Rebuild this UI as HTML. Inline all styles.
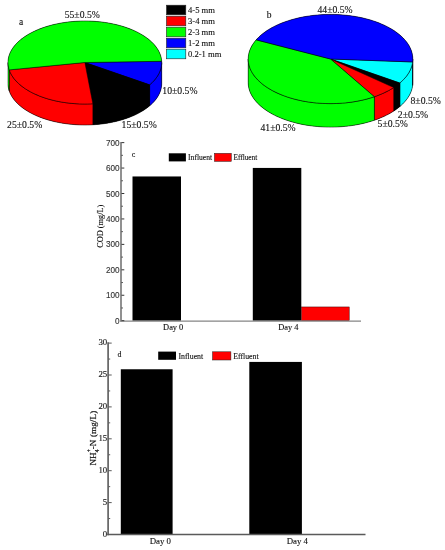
<!DOCTYPE html>
<html><head><meta charset="utf-8"><title>Figure</title>
<style>html,body{margin:0;padding:0;background:#fff;width:445px;height:550px;overflow:hidden}svg{display:block}</style>
</head><body>
<svg width="445" height="550" viewBox="0 0 445 550">
<rect width="445" height="550" fill="#fff"/>
<path d="M8,62.5 L8.05,61.07 L8.18,59.64 L8.41,58.21 L8.73,56.79 L9.14,55.37 L9.64,53.97 L10.23,52.57 L10.91,51.18 L11.68,49.81 L12.53,48.46 L13.48,47.12 L14.5,45.8 L15.61,44.49 L16.8,43.21 L18.08,41.96 L19.43,40.72 L20.86,39.52 L22.37,38.34 L23.95,37.19 L25.6,36.07 L27.33,34.98 L29.12,33.92 L30.98,32.9 L32.9,31.92 L34.89,30.97 L36.93,30.05 L39.04,29.18 L41.19,28.35 L43.4,27.55 L45.66,26.8 L47.97,26.09 L50.32,25.43 L52.71,24.8 L55.13,24.23 L57.6,23.7 L60.1,23.21 L62.62,22.77 L65.17,22.38 L67.75,22.04 L70.35,21.75 L72.96,21.5 L75.59,21.3 L78.23,21.15 L80.87,21.06 L83.52,21.01 L86.18,21.01 L88.83,21.06 L91.47,21.15 L94.11,21.3 L96.74,21.5 L99.35,21.75 L101.95,22.04 L104.53,22.38 L107.08,22.77 L109.6,23.21 L112.1,23.7 L114.57,24.23 L116.99,24.8 L119.38,25.43 L121.73,26.09 L124.04,26.8 L126.3,27.55 L128.51,28.35 L130.66,29.18 L132.77,30.05 L134.81,30.97 L136.8,31.92 L138.72,32.9 L140.58,33.92 L142.37,34.98 L144.1,36.07 L145.75,37.19 L147.33,38.34 L148.84,39.52 L150.27,40.72 L151.62,41.96 L152.9,43.21 L154.09,44.49 L155.2,45.8 L156.22,47.12 L157.17,48.46 L158.02,49.81 L158.79,51.18 L159.47,52.57 L160.06,53.97 L160.56,55.37 L160.97,56.79 L161.29,58.21 L161.52,59.64 L161.65,61.07 L161.7,62.5 L161.7,83.5 L161.65,84.93 L161.52,86.36 L161.29,87.79 L160.97,89.21 L160.56,90.63 L160.06,92.03 L159.47,93.43 L158.79,94.82 L158.02,96.19 L157.17,97.54 L156.22,98.88 L155.2,100.2 L154.09,101.51 L152.9,102.79 L151.62,104.04 L150.27,105.28 L148.84,106.48 L147.33,107.66 L145.75,108.81 L144.1,109.93 L142.37,111.02 L140.58,112.08 L138.72,113.1 L136.8,114.08 L134.81,115.03 L132.77,115.95 L130.66,116.82 L128.51,117.65 L126.3,118.45 L124.04,119.2 L121.73,119.91 L119.38,120.57 L116.99,121.2 L114.57,121.77 L112.1,122.3 L109.6,122.79 L107.08,123.23 L104.53,123.62 L101.95,123.96 L99.35,124.25 L96.74,124.5 L94.11,124.7 L91.47,124.85 L88.83,124.94 L86.18,124.99 L83.52,124.99 L80.87,124.94 L78.23,124.85 L75.59,124.7 L72.96,124.5 L70.35,124.25 L67.75,123.96 L65.17,123.62 L62.62,123.23 L60.1,122.79 L57.6,122.3 L55.13,121.77 L52.71,121.2 L50.32,120.57 L47.97,119.91 L45.66,119.2 L43.4,118.45 L41.19,117.65 L39.04,116.82 L36.93,115.95 L34.89,115.03 L32.9,114.08 L30.98,113.1 L29.12,112.08 L27.33,111.02 L25.6,109.93 L23.95,108.81 L22.37,107.66 L20.86,106.48 L19.43,105.28 L18.08,104.04 L16.8,102.79 L15.61,101.51 L14.5,100.2 L13.48,98.88 L12.53,97.54 L11.68,96.19 L10.91,94.82 L10.23,93.43 L9.64,92.03 L9.14,90.63 L8.73,89.21 L8.41,87.79 L8.18,86.36 L8.05,84.93 L8,83.5Z" fill="#000"/>
<path d="M161.7,62.5 L161.66,63.89 L161.53,65.27 L161.31,66.66 L161.01,68.04 L160.63,69.41 L160.16,70.77 L159.6,72.13 L158.96,73.47 L158.24,74.81 L157.44,76.13 L156.55,77.43 L155.59,78.72 L154.55,79.99 L153.42,81.23 L152.23,82.46 L150.95,83.67 L149.6,84.85 L149.6,105.85 L150.95,104.67 L152.23,103.46 L153.42,102.23 L154.55,100.99 L155.59,99.72 L156.55,98.43 L157.44,97.13 L158.24,95.81 L158.96,94.47 L159.6,93.13 L160.16,91.77 L160.63,90.41 L161.01,89.04 L161.31,87.66 L161.53,86.27 L161.66,84.89 L161.7,83.5Z" fill="#0000ff" stroke="#000" stroke-width="0.5" stroke-linejoin="round"/>
<path d="M149.6,84.85 L148.14,86.04 L146.59,87.21 L144.98,88.35 L143.29,89.45 L141.53,90.52 L139.71,91.56 L137.82,92.57 L135.86,93.54 L133.85,94.47 L131.78,95.36 L129.65,96.22 L127.47,97.03 L125.23,97.81 L122.95,98.54 L120.63,99.23 L118.26,99.87 L115.85,100.47 L113.4,101.03 L110.92,101.54 L108.41,102 L105.87,102.42 L103.31,102.79 L100.72,103.11 L98.12,103.38 L95.5,103.6 L92.86,103.77 L92.86,124.77 L95.5,124.6 L98.12,124.38 L100.72,124.11 L103.31,123.79 L105.87,123.42 L108.41,123 L110.92,122.54 L113.4,122.03 L115.85,121.47 L118.26,120.87 L120.63,120.23 L122.95,119.54 L125.23,118.81 L127.47,118.03 L129.65,117.22 L131.78,116.36 L133.85,115.47 L135.86,114.54 L137.82,113.57 L139.71,112.56 L141.53,111.52 L143.29,110.45 L144.98,109.35 L146.59,108.21 L148.14,107.04 L149.6,105.85Z" fill="#000000" stroke="#000" stroke-width="0.5" stroke-linejoin="round"/>
<path d="M92.86,103.77 L90.2,103.9 L87.53,103.97 L84.86,104 L82.18,103.98 L79.51,103.9 L76.85,103.77 L74.2,103.6 L71.56,103.37 L68.93,103.1 L66.33,102.78 L63.74,102.4 L61.19,101.98 L58.66,101.52 L56.16,101 L53.7,100.44 L51.27,99.83 L48.89,99.18 L46.55,98.48 L44.25,97.74 L42.01,96.95 L39.81,96.13 L37.68,95.26 L35.59,94.36 L33.57,93.41 L31.61,92.43 L29.72,91.41 L27.89,90.36 L26.13,89.27 L24.44,88.15 L22.82,87 L21.28,85.82 L19.82,84.61 L18.43,83.38 L17.13,82.12 L15.91,80.83 L14.77,79.53 L13.71,78.2 L12.74,76.86 L11.86,75.49 L11.07,74.11 L10.37,72.72 L9.75,71.32 L9.23,69.9 L9.23,90.9 L9.75,92.32 L10.37,93.72 L11.07,95.11 L11.86,96.49 L12.74,97.86 L13.71,99.2 L14.77,100.53 L15.91,101.83 L17.13,103.12 L18.43,104.38 L19.82,105.61 L21.28,106.82 L22.82,108 L24.44,109.15 L26.13,110.27 L27.89,111.36 L29.72,112.41 L31.61,113.43 L33.57,114.41 L35.59,115.36 L37.68,116.26 L39.81,117.13 L42.01,117.95 L44.25,118.74 L46.55,119.48 L48.89,120.18 L51.27,120.83 L53.7,121.44 L56.16,122 L58.66,122.52 L61.19,122.98 L63.74,123.4 L66.33,123.78 L68.93,124.1 L71.56,124.37 L74.2,124.6 L76.85,124.77 L79.51,124.9 L82.18,124.98 L84.86,125 L87.53,124.97 L90.2,124.9 L92.86,124.77Z" fill="#ff0000" stroke="#000" stroke-width="0.5" stroke-linejoin="round"/>
<path d="M9.23,69.9 L8.86,68.68 L8.55,67.45 L8.31,66.21 L8.14,64.98 L8.03,63.74 L8,62.5 L8,83.5 L8.03,84.74 L8.14,85.98 L8.31,87.21 L8.55,88.45 L8.86,89.68 L9.23,90.9Z" fill="#00ff00" stroke="#000" stroke-width="0.5" stroke-linejoin="round"/>
<path d="M84.85,62.5 L161.67,61.27 L161.7,62.65 L161.65,64.03 L161.51,65.41 L161.29,66.78 L160.98,68.15 L160.59,69.51 L160.12,70.87 L159.56,72.21 L158.93,73.55 L158.2,74.87 L157.4,76.18 L156.52,77.48 L155.56,78.76 L154.52,80.02 L153.4,81.26 L152.21,82.48 L150.94,83.68 L149.6,84.85Z" fill="#0000ff" stroke="#000" stroke-width="0.5" stroke-linejoin="round"/>
<path d="M84.85,62.5 L149.6,84.85 L148.14,86.04 L146.59,87.21 L144.98,88.35 L143.29,89.45 L141.53,90.52 L139.71,91.56 L137.82,92.57 L135.86,93.54 L133.85,94.47 L131.78,95.36 L129.65,96.22 L127.47,97.03 L125.23,97.81 L122.95,98.54 L120.63,99.23 L118.26,99.87 L115.85,100.47 L113.4,101.03 L110.92,101.54 L108.41,102 L105.87,102.42 L103.31,102.79 L100.72,103.11 L98.12,103.38 L95.5,103.6 L92.86,103.77Z" fill="#000000" stroke="#000" stroke-width="0.5" stroke-linejoin="round"/>
<path d="M84.85,62.5 L92.86,103.77 L90.2,103.9 L87.53,103.97 L84.86,104 L82.18,103.98 L79.51,103.9 L76.85,103.77 L74.2,103.6 L71.56,103.37 L68.93,103.1 L66.33,102.78 L63.74,102.4 L61.19,101.98 L58.66,101.52 L56.16,101 L53.7,100.44 L51.27,99.83 L48.89,99.18 L46.55,98.48 L44.25,97.74 L42.01,96.95 L39.81,96.13 L37.68,95.26 L35.59,94.36 L33.57,93.41 L31.61,92.43 L29.72,91.41 L27.89,90.36 L26.13,89.27 L24.44,88.15 L22.82,87 L21.28,85.82 L19.82,84.61 L18.43,83.38 L17.13,82.12 L15.91,80.83 L14.77,79.53 L13.71,78.2 L12.74,76.86 L11.86,75.49 L11.07,74.11 L10.37,72.72 L9.75,71.32 L9.23,69.9Z" fill="#ff0000" stroke="#000" stroke-width="0.5" stroke-linejoin="round"/>
<path d="M84.85,62.5 L9.23,69.9 L8.8,68.48 L8.46,67.06 L8.22,65.62 L8.06,64.19 L8,62.75 L8.03,61.31 L8.15,59.88 L8.37,58.44 L8.67,57.02 L9.07,55.59 L9.56,54.18 L10.14,52.78 L10.81,51.39 L11.56,50.01 L12.41,48.64 L13.34,47.3 L14.36,45.97 L15.46,44.66 L16.65,43.37 L17.92,42.11 L19.26,40.87 L20.69,39.66 L22.19,38.47 L23.77,37.31 L25.43,36.19 L27.15,35.09 L28.94,34.03 L30.8,33 L32.73,32 L34.71,31.05 L36.76,30.13 L38.87,29.25 L41.03,28.41 L43.24,27.61 L45.5,26.85 L47.81,26.14 L50.17,25.47 L52.56,24.84 L55,24.26 L57.47,23.72 L59.97,23.23 L62.51,22.79 L65.07,22.4 L67.65,22.05 L70.25,21.76 L72.88,21.51 L75.51,21.31 L78.16,21.16 L80.82,21.06 L83.48,21.01 L86.14,21.01 L88.8,21.05 L91.46,21.15 L94.1,21.3 L96.74,21.5 L99.36,21.75 L101.97,22.04 L104.55,22.39 L107.12,22.78 L109.65,23.22 L112.15,23.71 L114.63,24.24 L117.06,24.82 L119.46,25.45 L121.82,26.12 L124.13,26.83 L126.39,27.59 L128.61,28.38 L130.77,29.22 L132.87,30.1 L134.92,31.02 L136.91,31.97 L138.84,32.97 L140.7,33.99 L142.5,35.06 L144.22,36.15 L145.88,37.28 L147.46,38.43 L148.96,39.62 L150.39,40.83 L151.74,42.07 L153.01,43.33 L154.2,44.62 L155.31,45.93 L156.33,47.26 L157.26,48.6 L158.11,49.97 L158.87,51.34 L159.54,52.73 L160.12,54.14 L160.61,55.55 L161.02,56.97 L161.32,58.4 L161.54,59.83 L161.67,61.27Z" fill="#00ff00" stroke="#000" stroke-width="0.5" stroke-linejoin="round"/>
<path d="M248.2,59 L248.25,57.46 L248.4,55.92 L248.64,54.39 L248.98,52.86 L249.42,51.34 L249.96,49.83 L250.59,48.33 L251.32,46.84 L252.14,45.36 L253.06,43.91 L254.06,42.47 L255.16,41.05 L256.35,39.65 L257.63,38.27 L258.99,36.92 L260.44,35.6 L261.97,34.3 L263.59,33.03 L265.28,31.8 L267.05,30.59 L268.9,29.42 L270.82,28.29 L272.81,27.19 L274.87,26.13 L277,25.11 L279.19,24.13 L281.44,23.19 L283.75,22.29 L286.11,21.44 L288.53,20.63 L291,19.87 L293.52,19.16 L296.08,18.49 L298.68,17.87 L301.32,17.3 L303.99,16.78 L306.69,16.31 L309.43,15.89 L312.19,15.52 L314.97,15.2 L317.77,14.94 L320.58,14.73 L323.41,14.57 L326.24,14.46 L329.08,14.41 L331.92,14.41 L334.76,14.46 L337.59,14.57 L340.42,14.73 L343.23,14.94 L346.03,15.2 L348.81,15.52 L351.57,15.89 L354.31,16.31 L357.01,16.78 L359.68,17.3 L362.32,17.87 L364.92,18.49 L367.48,19.16 L370,19.87 L372.47,20.63 L374.89,21.44 L377.25,22.29 L379.56,23.19 L381.81,24.13 L384,25.11 L386.13,26.13 L388.19,27.19 L390.18,28.29 L392.1,29.42 L393.95,30.59 L395.72,31.8 L397.41,33.03 L399.03,34.3 L400.56,35.6 L402.01,36.92 L403.37,38.27 L404.65,39.65 L405.84,41.05 L406.94,42.47 L407.94,43.91 L408.86,45.36 L409.68,46.84 L410.41,48.33 L411.04,49.83 L411.58,51.34 L412.02,52.86 L412.36,54.39 L412.6,55.92 L412.75,57.46 L412.8,59 L412.8,82.5 L412.75,84.04 L412.6,85.58 L412.36,87.11 L412.02,88.64 L411.58,90.16 L411.04,91.67 L410.41,93.17 L409.68,94.66 L408.86,96.14 L407.94,97.59 L406.94,99.03 L405.84,100.45 L404.65,101.85 L403.37,103.23 L402.01,104.58 L400.56,105.9 L399.03,107.2 L397.41,108.47 L395.72,109.7 L393.95,110.91 L392.1,112.08 L390.18,113.21 L388.19,114.31 L386.13,115.37 L384,116.39 L381.81,117.37 L379.56,118.31 L377.25,119.21 L374.89,120.06 L372.47,120.87 L370,121.63 L367.48,122.34 L364.92,123.01 L362.32,123.63 L359.68,124.2 L357.01,124.72 L354.31,125.19 L351.57,125.61 L348.81,125.98 L346.03,126.3 L343.23,126.56 L340.42,126.77 L337.59,126.93 L334.76,127.04 L331.92,127.09 L329.08,127.09 L326.24,127.04 L323.41,126.93 L320.58,126.77 L317.77,126.56 L314.97,126.3 L312.19,125.98 L309.43,125.61 L306.69,125.19 L303.99,124.72 L301.32,124.2 L298.68,123.63 L296.08,123.01 L293.52,122.34 L291,121.63 L288.53,120.87 L286.11,120.06 L283.75,119.21 L281.44,118.31 L279.19,117.37 L277,116.39 L274.87,115.37 L272.81,114.31 L270.82,113.21 L268.9,112.08 L267.05,110.91 L265.28,109.7 L263.59,108.47 L261.97,107.2 L260.44,105.9 L258.99,104.58 L257.63,103.23 L256.35,101.85 L255.16,100.45 L254.06,99.03 L253.06,97.59 L252.14,96.14 L251.32,94.66 L250.59,93.17 L249.96,91.67 L249.42,90.16 L248.98,88.64 L248.64,87.11 L248.4,85.58 L248.25,84.04 L248.2,82.5Z" fill="#000"/>
<path d="M412.62,61.96 L412.39,63.45 L412.07,64.93 L411.66,66.41 L411.15,67.88 L410.56,69.34 L409.88,70.78 L409.1,72.22 L408.24,73.64 L407.29,75.04 L406.26,76.43 L405.14,77.79 L403.93,79.14 L402.65,80.46 L401.28,81.76 L399.83,83.03 L399.83,106.53 L401.28,105.26 L402.65,103.96 L403.93,102.64 L405.14,101.29 L406.26,99.93 L407.29,98.54 L408.24,97.14 L409.1,95.72 L409.88,94.28 L410.56,92.84 L411.15,91.38 L411.66,89.91 L412.07,88.43 L412.39,86.95 L412.62,85.46Z" fill="#00ffff" stroke="#000" stroke-width="0.5" stroke-linejoin="round"/>
<path d="M399.83,83.03 L398.41,84.2 L396.91,85.34 L395.35,86.46 L393.73,87.55 L393.73,111.05 L395.35,109.96 L396.91,108.84 L398.41,107.7 L399.83,106.53Z" fill="#000000" stroke="#000" stroke-width="0.5" stroke-linejoin="round"/>
<path d="M393.73,87.55 L392.04,88.61 L390.3,89.64 L388.49,90.65 L386.63,91.62 L384.71,92.56 L382.74,93.46 L380.71,94.34 L378.64,95.17 L376.52,95.98 L374.36,96.74 L374.36,120.24 L376.52,119.48 L378.64,118.67 L380.71,117.84 L382.74,116.96 L384.71,116.06 L386.63,115.12 L388.49,114.15 L390.3,113.14 L392.04,112.11 L393.73,111.05Z" fill="#ff0000" stroke="#000" stroke-width="0.5" stroke-linejoin="round"/>
<path d="M374.36,96.74 L371.93,97.54 L369.46,98.28 L366.95,98.99 L364.39,99.64 L361.79,100.25 L359.15,100.81 L356.48,101.32 L353.78,101.78 L351.05,102.19 L348.3,102.54 L345.53,102.85 L342.73,103.1 L339.93,103.31 L337.11,103.46 L334.28,103.55 L331.45,103.6 L328.62,103.59 L325.79,103.53 L322.97,103.41 L320.16,103.25 L317.36,103.03 L314.57,102.76 L311.8,102.43 L309.06,102.06 L306.34,101.63 L303.64,101.16 L300.98,100.63 L298.36,100.06 L295.77,99.44 L293.23,98.76 L290.73,98.05 L288.27,97.28 L285.87,96.47 L283.52,95.62 L281.22,94.72 L278.98,93.78 L276.8,92.8 L274.69,91.78 L272.64,90.72 L270.66,89.62 L268.76,88.49 L266.92,87.32 L265.16,86.12 L263.48,84.89 L261.88,83.62 L260.35,82.33 L258.92,81.01 L257.56,79.66 L256.29,78.29 L255.11,76.89 L254.02,75.48 L253.02,74.04 L252.11,72.59 L251.3,71.12 L250.57,69.64 L249.95,68.14 L249.41,66.63 L248.98,65.12 L248.64,63.59 L248.39,62.07 L248.25,60.53 L248.2,59 L248.2,82.5 L248.25,84.03 L248.39,85.57 L248.64,87.09 L248.98,88.62 L249.41,90.13 L249.95,91.64 L250.57,93.14 L251.3,94.62 L252.11,96.09 L253.02,97.54 L254.02,98.98 L255.11,100.39 L256.29,101.79 L257.56,103.16 L258.92,104.51 L260.35,105.83 L261.88,107.12 L263.48,108.39 L265.16,109.62 L266.92,110.82 L268.76,111.99 L270.66,113.12 L272.64,114.22 L274.69,115.28 L276.8,116.3 L278.98,117.28 L281.22,118.22 L283.52,119.12 L285.87,119.97 L288.27,120.78 L290.73,121.55 L293.23,122.26 L295.77,122.94 L298.36,123.56 L300.98,124.13 L303.64,124.66 L306.34,125.13 L309.06,125.56 L311.8,125.93 L314.57,126.26 L317.36,126.53 L320.16,126.75 L322.97,126.91 L325.79,127.03 L328.62,127.09 L331.45,127.1 L334.28,127.05 L337.11,126.96 L339.93,126.81 L342.73,126.6 L345.53,126.35 L348.3,126.04 L351.05,125.69 L353.78,125.28 L356.48,124.82 L359.15,124.31 L361.79,123.75 L364.39,123.14 L366.95,122.49 L369.46,121.78 L371.93,121.04 L374.36,120.24Z" fill="#00ff00" stroke="#000" stroke-width="0.5" stroke-linejoin="round"/>
<path d="M412.8,59 L412.75,60.48 L412.62,61.96 L412.62,85.46 L412.75,83.98 L412.8,82.5Z" fill="#0000ff" stroke="#000" stroke-width="0.5" stroke-linejoin="round"/>
<path d="M330.5,59 L412.62,61.96 L412.39,63.45 L412.07,64.93 L411.66,66.41 L411.15,67.88 L410.56,69.34 L409.88,70.78 L409.1,72.22 L408.24,73.64 L407.29,75.04 L406.26,76.43 L405.14,77.79 L403.93,79.14 L402.65,80.46 L401.28,81.76 L399.83,83.03Z" fill="#00ffff" stroke="#000" stroke-width="0.5" stroke-linejoin="round"/>
<path d="M330.5,59 L399.83,83.03 L398.41,84.2 L396.91,85.34 L395.35,86.46 L393.73,87.55Z" fill="#000000" stroke="#000" stroke-width="0.5" stroke-linejoin="round"/>
<path d="M330.5,59 L393.73,87.55 L392.04,88.61 L390.3,89.64 L388.49,90.65 L386.63,91.62 L384.71,92.56 L382.74,93.46 L380.71,94.34 L378.64,95.17 L376.52,95.98 L374.36,96.74Z" fill="#ff0000" stroke="#000" stroke-width="0.5" stroke-linejoin="round"/>
<path d="M330.5,59 L374.36,96.74 L371.91,97.54 L369.4,98.3 L366.86,99.01 L364.26,99.67 L361.63,100.29 L358.96,100.85 L356.26,101.36 L353.52,101.82 L350.76,102.23 L347.97,102.58 L345.16,102.89 L342.33,103.14 L339.49,103.33 L336.64,103.48 L333.78,103.56 L330.91,103.6 L328.05,103.58 L325.19,103.51 L322.33,103.38 L319.48,103.2 L316.65,102.96 L313.84,102.68 L311.04,102.34 L308.27,101.94 L305.53,101.5 L302.81,101 L300.13,100.45 L297.49,99.85 L294.88,99.21 L292.32,98.51 L289.81,97.77 L287.34,96.98 L284.93,96.14 L282.57,95.26 L280.27,94.33 L278.03,93.36 L275.86,92.35 L273.75,91.3 L271.71,90.21 L269.74,89.08 L267.85,87.92 L266.03,86.72 L264.28,85.49 L262.62,84.22 L261.05,82.93 L259.55,81.6 L258.14,80.25 L256.82,78.87 L255.59,77.47 L254.45,76.05 L253.4,74.6 L252.44,73.14 L251.58,71.66 L250.82,70.16 L250.15,68.65 L249.58,67.13 L249.11,65.6 L248.73,64.06 L248.46,62.51 L248.28,60.96 L248.2,59.41 L248.23,57.86 L248.35,56.31 L248.57,54.76 L248.89,53.22 L249.32,51.68 L249.83,50.16 L250.45,48.64 L251.17,47.14 L251.98,45.65 L252.88,44.17 L253.88,42.72 L254.97,41.28 L256.16,39.87Z" fill="#00ff00" stroke="#000" stroke-width="0.5" stroke-linejoin="round"/>
<path d="M330.5,59 L256.16,39.87 L257.42,38.49 L258.77,37.13 L260.21,35.8 L261.73,34.5 L263.33,33.23 L265.02,31.99 L266.78,30.78 L268.61,29.6 L270.53,28.46 L272.51,27.35 L274.56,26.29 L276.68,25.26 L278.86,24.27 L281.11,23.32 L283.41,22.42 L285.77,21.56 L288.19,20.75 L290.65,19.98 L293.16,19.25 L295.72,18.58 L298.32,17.95 L300.95,17.37 L303.62,16.85 L306.33,16.37 L309.06,15.94 L311.82,15.56 L314.6,15.24 L317.4,14.97 L320.21,14.75 L323.04,14.58 L325.88,14.47 L328.72,14.41 L331.56,14.4 L334.41,14.45 L337.24,14.55 L340.07,14.7 L342.89,14.91 L345.7,15.17 L348.48,15.48 L351.25,15.84 L353.98,16.25 L356.7,16.72 L359.38,17.24 L362.02,17.8 L364.63,18.42 L367.2,19.08 L369.72,19.79 L372.2,20.55 L374.62,21.35 L377,22.2 L379.32,23.09 L381.58,24.03 L383.77,25.01 L385.91,26.02 L387.98,27.08 L389.98,28.18 L391.91,29.31 L393.77,30.48 L395.55,31.68 L397.25,32.91 L398.87,34.18 L400.42,35.47 L401.87,36.79 L403.25,38.14 L404.53,39.52 L405.73,40.92 L406.84,42.34 L407.86,43.78 L408.78,45.23 L409.61,46.71 L410.35,48.2 L410.99,49.7 L411.53,51.21 L411.98,52.73 L412.33,54.26 L412.59,55.8 L412.74,57.33 L412.8,58.88 L412.76,60.42 L412.62,61.96Z" fill="#0000ff" stroke="#000" stroke-width="0.5" stroke-linejoin="round"/>
<text x="19" y="24.5" style="font-family:'Liberation Serif','Times New Roman',serif;font-size:9.5px" text-anchor="start" fill="#111" stroke="#111" stroke-width="0.12">a</text>
<text x="82.25" y="17.6" style="font-family:'Liberation Serif','Times New Roman',serif;font-size:9.7px" text-anchor="middle" fill="#111" stroke="#111" stroke-width="0.12">55&#177;0.5%</text>
<text x="24.65" y="127.8" style="font-family:'Liberation Serif','Times New Roman',serif;font-size:9.7px" text-anchor="middle" fill="#111" stroke="#111" stroke-width="0.12">25&#177;0.5%</text>
<text x="139.2" y="128" style="font-family:'Liberation Serif','Times New Roman',serif;font-size:9.7px" text-anchor="middle" fill="#111" stroke="#111" stroke-width="0.12">15&#177;0.5%</text>
<text x="179.9" y="94.1" style="font-family:'Liberation Serif','Times New Roman',serif;font-size:9.7px" text-anchor="middle" fill="#111" stroke="#111" stroke-width="0.12">10&#177;0.5%</text>
<text x="266.7" y="17.5" style="font-family:'Liberation Serif','Times New Roman',serif;font-size:9.5px" text-anchor="start" fill="#111" stroke="#111" stroke-width="0.12">b</text>
<text x="335.05" y="12.8" style="font-family:'Liberation Serif','Times New Roman',serif;font-size:9.7px" text-anchor="middle" fill="#111" stroke="#111" stroke-width="0.12">44&#177;0.5%</text>
<text x="278.1" y="131" style="font-family:'Liberation Serif','Times New Roman',serif;font-size:9.7px" text-anchor="middle" fill="#111" stroke="#111" stroke-width="0.12">41&#177;0.5%</text>
<text x="425.65" y="103.6" style="font-family:'Liberation Serif','Times New Roman',serif;font-size:9.7px" text-anchor="middle" fill="#111" stroke="#111" stroke-width="0.12">8&#177;0.5%</text>
<text x="413" y="117.9" style="font-family:'Liberation Serif','Times New Roman',serif;font-size:9.7px" text-anchor="middle" fill="#111" stroke="#111" stroke-width="0.12">2&#177;0.5%</text>
<text x="392.75" y="127.2" style="font-family:'Liberation Serif','Times New Roman',serif;font-size:9.7px" text-anchor="middle" fill="#111" stroke="#111" stroke-width="0.12">5&#177;0.5%</text>
<rect x="166.5" y="5.2" width="19.3" height="9.6" fill="#000000" stroke="#222" stroke-width="0.6"/>
<text x="188" y="13" style="font-family:'Liberation Serif','Times New Roman',serif;font-size:8.6px" text-anchor="start" fill="#111" stroke="#111" stroke-width="0.12">4-5 mm</text>
<rect x="166.5" y="16.2" width="19.3" height="9.6" fill="#ff0000" stroke="#222" stroke-width="0.6"/>
<text x="188" y="24" style="font-family:'Liberation Serif','Times New Roman',serif;font-size:8.6px" text-anchor="start" fill="#111" stroke="#111" stroke-width="0.12">3-4 mm</text>
<rect x="166.5" y="27.2" width="19.3" height="9.6" fill="#00ff00" stroke="#222" stroke-width="0.6"/>
<text x="188" y="35" style="font-family:'Liberation Serif','Times New Roman',serif;font-size:8.6px" text-anchor="start" fill="#111" stroke="#111" stroke-width="0.12">2-3 mm</text>
<rect x="166.5" y="38.2" width="19.3" height="9.6" fill="#0000ff" stroke="#222" stroke-width="0.6"/>
<text x="188" y="46" style="font-family:'Liberation Serif','Times New Roman',serif;font-size:8.6px" text-anchor="start" fill="#111" stroke="#111" stroke-width="0.12">1-2 mm</text>
<rect x="166.5" y="49.2" width="19.3" height="9.6" fill="#00ffff" stroke="#222" stroke-width="0.6"/>
<text x="188" y="57" style="font-family:'Liberation Serif','Times New Roman',serif;font-size:8.6px" text-anchor="start" fill="#111" stroke="#111" stroke-width="0.12">0.2-1 mm</text>
<rect x="132.5" y="176.46" width="48.5" height="144.24" fill="#000"/>
<rect x="252.8" y="167.93" width="48.5" height="152.77" fill="#000"/>
<rect x="301.5" y="306.96" width="47.7" height="13.74" fill="#ff0000" stroke="#400" stroke-width="0.5"/>
<line x1="121" y1="141.92" x2="121" y2="321.6" stroke="#858585" stroke-width="1.8"/>
<line x1="120.1" y1="321.1" x2="361" y2="321.1" stroke="#858585" stroke-width="1.4"/>
<line x1="121.5" y1="320.7" x2="124.3" y2="320.7" stroke="#333" stroke-width="1"/>
<text x="119.6" y="323.7" style="font-family:'Liberation Sans',Arial,sans-serif;font-size:8.2px" text-anchor="end" fill="#333" stroke="#333" stroke-width="0.12">0</text>
<line x1="121.5" y1="295.26" x2="124.3" y2="295.26" stroke="#333" stroke-width="1"/>
<text x="119.6" y="298.26" style="font-family:'Liberation Sans',Arial,sans-serif;font-size:8.2px" text-anchor="end" fill="#333" stroke="#333" stroke-width="0.12">100</text>
<line x1="121.5" y1="269.82" x2="124.3" y2="269.82" stroke="#333" stroke-width="1"/>
<text x="119.6" y="272.82" style="font-family:'Liberation Sans',Arial,sans-serif;font-size:8.2px" text-anchor="end" fill="#333" stroke="#333" stroke-width="0.12">200</text>
<line x1="121.5" y1="244.38" x2="124.3" y2="244.38" stroke="#333" stroke-width="1"/>
<text x="119.6" y="247.38" style="font-family:'Liberation Sans',Arial,sans-serif;font-size:8.2px" text-anchor="end" fill="#333" stroke="#333" stroke-width="0.12">300</text>
<line x1="121.5" y1="218.94" x2="124.3" y2="218.94" stroke="#333" stroke-width="1"/>
<text x="119.6" y="221.94" style="font-family:'Liberation Sans',Arial,sans-serif;font-size:8.2px" text-anchor="end" fill="#333" stroke="#333" stroke-width="0.12">400</text>
<line x1="121.5" y1="193.5" x2="124.3" y2="193.5" stroke="#333" stroke-width="1"/>
<text x="119.6" y="196.5" style="font-family:'Liberation Sans',Arial,sans-serif;font-size:8.2px" text-anchor="end" fill="#333" stroke="#333" stroke-width="0.12">500</text>
<line x1="121.5" y1="168.06" x2="124.3" y2="168.06" stroke="#333" stroke-width="1"/>
<text x="119.6" y="171.06" style="font-family:'Liberation Sans',Arial,sans-serif;font-size:8.2px" text-anchor="end" fill="#333" stroke="#333" stroke-width="0.12">600</text>
<line x1="121.5" y1="142.62" x2="124.3" y2="142.62" stroke="#333" stroke-width="1"/>
<text x="119.6" y="145.62" style="font-family:'Liberation Sans',Arial,sans-serif;font-size:8.2px" text-anchor="end" fill="#333" stroke="#333" stroke-width="0.12">700</text>
<line x1="121.5" y1="307.98" x2="122.8" y2="307.98" stroke="#333" stroke-width="1"/>
<line x1="121.5" y1="282.54" x2="122.8" y2="282.54" stroke="#333" stroke-width="1"/>
<line x1="121.5" y1="257.1" x2="122.8" y2="257.1" stroke="#333" stroke-width="1"/>
<line x1="121.5" y1="231.66" x2="122.8" y2="231.66" stroke="#333" stroke-width="1"/>
<line x1="121.5" y1="206.22" x2="122.8" y2="206.22" stroke="#333" stroke-width="1"/>
<line x1="121.5" y1="180.78" x2="122.8" y2="180.78" stroke="#333" stroke-width="1"/>
<line x1="121.5" y1="155.34" x2="122.8" y2="155.34" stroke="#333" stroke-width="1"/>
<text x="131.8" y="157.2" style="font-family:'Liberation Serif','Times New Roman',serif;font-size:8px" text-anchor="start" fill="#111" stroke="#111" stroke-width="0.12">c</text>
<rect x="168.8" y="153.3" width="17.1" height="8.1" fill="#000"/>
<text x="188.1" y="160" style="font-family:'Liberation Serif','Times New Roman',serif;font-size:7.6px" text-anchor="start" fill="#111" stroke="#111" stroke-width="0.12">Influent</text>
<rect x="214.4" y="153.3" width="16.9" height="8.1" fill="#ff0000" stroke="#222" stroke-width="0.5"/>
<text x="233.5" y="160" style="font-family:'Liberation Serif','Times New Roman',serif;font-size:7.3px" text-anchor="start" fill="#111" stroke="#111" stroke-width="0.12">Effluent</text>
<text x="173.2" y="329.8" style="font-family:'Liberation Serif','Times New Roman',serif;font-size:8.4px" text-anchor="middle" fill="#111" stroke="#111" stroke-width="0.12">Day 0</text>
<text x="288.4" y="329.8" style="font-family:'Liberation Serif','Times New Roman',serif;font-size:8.4px" text-anchor="middle" fill="#111" stroke="#111" stroke-width="0.12">Day 4</text>
<text x="102.7" y="226.2" style="font-family:'Liberation Serif','Times New Roman',serif;font-size:8.3px" text-anchor="middle" fill="#111" stroke="#111" stroke-width="0.12" transform="rotate(-90 102.7 226.2)">COD (mg/L)</text>
<rect x="120.8" y="369.26" width="51.8" height="165.24" fill="#000"/>
<rect x="249.3" y="361.92" width="52.6" height="172.58" fill="#000"/>
<line x1="108.1" y1="342.3" x2="108.1" y2="535.3" stroke="#5a5a5a" stroke-width="1.6"/>
<line x1="107.3" y1="534.5" x2="365.5" y2="534.5" stroke="#5a5a5a" stroke-width="1.5"/>
<line x1="108.4" y1="534.5" x2="111.7" y2="534.5" stroke="#5a5a5a" stroke-width="1"/>
<text x="107.2" y="536.7" style="font-family:'Liberation Serif','Times New Roman',serif;font-size:8.8px" text-anchor="end" fill="#222" stroke="#222" stroke-width="0.15">0</text>
<line x1="108.4" y1="502.6" x2="111.7" y2="502.6" stroke="#5a5a5a" stroke-width="1"/>
<text x="107.2" y="504.8" style="font-family:'Liberation Serif','Times New Roman',serif;font-size:8.8px" text-anchor="end" fill="#222" stroke="#222" stroke-width="0.15">5</text>
<line x1="108.4" y1="470.7" x2="111.7" y2="470.7" stroke="#5a5a5a" stroke-width="1"/>
<text x="107.2" y="472.9" style="font-family:'Liberation Serif','Times New Roman',serif;font-size:8.8px" text-anchor="end" fill="#222" stroke="#222" stroke-width="0.15">10</text>
<line x1="108.4" y1="438.8" x2="111.7" y2="438.8" stroke="#5a5a5a" stroke-width="1"/>
<text x="107.2" y="441" style="font-family:'Liberation Serif','Times New Roman',serif;font-size:8.8px" text-anchor="end" fill="#222" stroke="#222" stroke-width="0.15">15</text>
<line x1="108.4" y1="406.9" x2="111.7" y2="406.9" stroke="#5a5a5a" stroke-width="1"/>
<text x="107.2" y="409.1" style="font-family:'Liberation Serif','Times New Roman',serif;font-size:8.8px" text-anchor="end" fill="#222" stroke="#222" stroke-width="0.15">20</text>
<line x1="108.4" y1="375" x2="111.7" y2="375" stroke="#5a5a5a" stroke-width="1"/>
<text x="107.2" y="377.2" style="font-family:'Liberation Serif','Times New Roman',serif;font-size:8.8px" text-anchor="end" fill="#222" stroke="#222" stroke-width="0.15">25</text>
<line x1="108.4" y1="343.1" x2="111.7" y2="343.1" stroke="#5a5a5a" stroke-width="1"/>
<text x="107.2" y="345.3" style="font-family:'Liberation Serif','Times New Roman',serif;font-size:8.8px" text-anchor="end" fill="#222" stroke="#222" stroke-width="0.15">30</text>
<line x1="108.4" y1="518.55" x2="110.2" y2="518.55" stroke="#5a5a5a" stroke-width="1"/>
<line x1="108.4" y1="486.65" x2="110.2" y2="486.65" stroke="#5a5a5a" stroke-width="1"/>
<line x1="108.4" y1="454.75" x2="110.2" y2="454.75" stroke="#5a5a5a" stroke-width="1"/>
<line x1="108.4" y1="422.85" x2="110.2" y2="422.85" stroke="#5a5a5a" stroke-width="1"/>
<line x1="108.4" y1="390.95" x2="110.2" y2="390.95" stroke="#5a5a5a" stroke-width="1"/>
<line x1="108.4" y1="359.05" x2="110.2" y2="359.05" stroke="#5a5a5a" stroke-width="1"/>
<text x="117.4" y="356.6" style="font-family:'Liberation Serif','Times New Roman',serif;font-size:8px" text-anchor="start" fill="#111" stroke="#111" stroke-width="0.12">d</text>
<rect x="158.2" y="351.6" width="17.8" height="8.2" fill="#000"/>
<text x="178.5" y="359" style="font-family:'Liberation Serif','Times New Roman',serif;font-size:7.8px" text-anchor="start" fill="#111" stroke="#111" stroke-width="0.12">Influent</text>
<rect x="212.5" y="351.8" width="18.4" height="8.2" fill="#ff0000" stroke="#222" stroke-width="0.5"/>
<text x="233.2" y="359" style="font-family:'Liberation Serif','Times New Roman',serif;font-size:7.8px" text-anchor="start" fill="#111" stroke="#111" stroke-width="0.12">Effluent</text>
<text x="160.4" y="543.6" style="font-family:'Liberation Serif','Times New Roman',serif;font-size:8.8px" text-anchor="middle" fill="#111" stroke="#111" stroke-width="0.12">Day 0</text>
<text x="297.3" y="543.6" style="font-family:'Liberation Serif','Times New Roman',serif;font-size:8.8px" text-anchor="middle" fill="#111" stroke="#111" stroke-width="0.12">Day 4</text>
<text transform="translate(95.7,465.6) rotate(-90)" x="0" y="0" style="font-family:'Liberation Serif','Times New Roman',serif;font-size:9.1px;letter-spacing:0.1px" fill="#111" stroke="#111" stroke-width="0.2">NH<tspan dy="3.4" style="font-size:5.5px">4</tspan><tspan dy="-7.8" dx="-2.85" style="font-size:5.5px">+</tspan><tspan dy="4.4" dx="-0.2">-N (mg/L)</tspan></text>
</svg>
</body></html>
